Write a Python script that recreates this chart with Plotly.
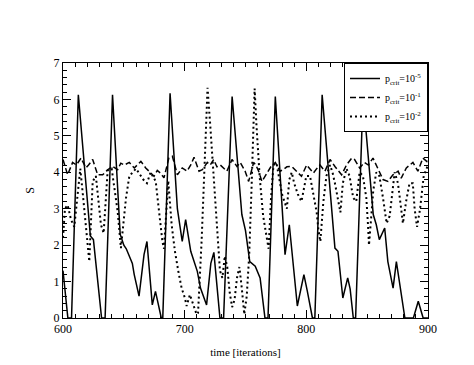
import plotly.graph_objects as go

# ---- data ----
t_solid = [600, 604, 607, 612.6, 622.5, 625, 631.7, 634.6, 640.7, 647, 650, 652, 657, 658.5, 662.5,
           666.6, 669, 673.4, 676, 680.8, 682, 688, 694, 698, 700.8, 705, 710.4, 713, 718, 721.5,
           724, 726.5, 729, 732, 739, 747, 750, 753.5, 758, 762, 766, 768.5, 774.5, 782.5, 786,
           792.6, 798, 800.8, 805, 807, 813, 823.5, 826, 830, 834, 836, 838.6, 840.5, 846.6, 855,
           857.5, 860, 864.4, 867, 871.3, 874, 878, 881, 888, 892, 896, 900]
s_solid = [1.3, 0, 0, 6.13, 2.25, 2.15, 0, 0, 6.13, 2.3, 2.0, 1.9, 1.5, 1.2, 0.6,
           1.74, 2.1, 0.36, 0.73, 0, 0, 6.17, 3.0, 2.1, 2.7, 1.83, 1.28, 0.82, 0.36, 1.5,
           1.8, 0.9, 0, 0, 6.08, 2.84, 2.4, 1.55, 1.42, 1.1, 0, 0, 6.08, 1.74, 2.56,
           0.33, 1.19, 0.74, 0, 0, 6.13, 1.92, 1.83, 0.55, 1.1, 0.8, 0, 0, 6.08, 2.84,
           2.56, 2.15, 2.47, 1.55, 0.82, 1.55, 0.73, 0, 0, 0.46, 0, 0]

t_dash = [600, 603.8, 607.9, 611, 614.8, 618.9, 621, 624.4, 628.5, 632.6, 636.7, 640.8, 644.9, 647.5,
          650.4, 654.5, 658.6, 664, 668, 670.7, 674.8, 677.5, 680, 683, 687, 689.9, 694, 698, 702,
          705, 707.7, 711.8, 714.5, 718.6, 721, 723.8, 726.5, 729.3, 732, 734.7, 738.9, 743, 745.7,
          749.7, 752.6, 756.7, 758.5, 760.8, 763.5, 767.7, 771, 774.5, 778.4, 781, 784, 788, 792,
          796, 800.3, 803, 805.8, 808.5, 811.2, 815.3, 819.5, 823.5, 826, 829, 833, 837.3, 839.7,
          843.8, 847.9, 851, 854.8, 858, 863, 867.1, 871.2, 875.4, 878, 882.2, 885, 887.6, 891.7,
          895.8, 899, 900]
s_dash = [4.35, 3.93, 4.27, 4.2, 4.39, 4.12, 4.2, 4.35, 3.93, 3.93, 4.07, 4.16, 4.07, 4.25,
          4.2, 4.27, 4.12, 4.3, 4.12, 4.03, 3.89, 4.05, 3.98, 3.85, 4.39, 4.44, 3.93, 4.12, 4.03,
          4.2, 4.41, 4.03, 4.07, 4.27, 4.2, 4.35, 4.15, 4.2, 4.1, 4.03, 4.35, 4.16, 4.27,
          4.03, 3.75, 4.27, 4.2, 4.03, 3.75, 3.98, 4.16, 4.27, 4.03, 4.07, 4.15, 4.16, 4.03,
          3.89, 4.2, 4.1, 3.98, 4.1, 4.2, 4.03, 4.35, 4.16, 4.05, 3.93, 4.2, 4.39, 4.35,
          4.12, 4.27, 4.2, 4.39, 4.16, 3.8, 3.75, 3.93, 4.03, 3.84, 4.12, 4.2, 4.27, 4.03,
          4.39, 4.3, 4.4]

t_dot = [600, 601.6, 603.8, 606.6, 609.3, 612, 614.2, 616, 618.9, 621.6, 624.4, 627, 631.2, 633.4,
         636.7, 640, 644.9, 647.6, 651.8, 654.5, 657.2, 660, 663, 666, 669, 672, 676.2, 679, 681.7,
         683, 686.5, 689.3, 692, 694.8, 697.5, 700.2, 701.6, 704.3, 707, 709.8, 711, 713.9, 716.6,
         718.8, 721, 723.8, 726.6, 729, 731, 733, 735, 737, 739, 741, 743, 745, 747, 749, 751, 753,
         755, 757.5, 759, 761.6, 764.5, 767.7, 769, 771, 773, 775.5, 778, 780, 782, 784, 786, 788,
         790, 793, 796, 798, 800, 803, 806, 808.5, 810, 811.5, 814, 816.5, 819.5, 821.5, 823.5,
         826, 828, 830, 833, 835.5, 838.5, 841, 843.8, 846.5, 849.3, 850.6, 851.5, 853.4, 855,
         857.5, 860, 863, 866, 868.5, 871.3, 872.6, 875.3, 878, 879.4, 882, 884.8, 887.5, 889,
         891, 893.5, 896.5, 899, 900]
s_dot = [2.2, 3.0, 3.1, 2.7, 2.5, 3.3, 4.1, 3.5, 2.56, 1.55, 3.75, 3.9, 2.56, 2.33,
         4.05, 4.1, 2.93, 1.92, 3.3, 3.89, 4.0, 4.1, 3.95, 3.8, 3.7, 4.0, 3.75, 2.85, 2.1,
         1.9, 3.77, 2.56, 1.83, 1.28, 0.82, 0.55, 0.33, 0.64, 0.37, 0.1, 0.14, 2.1, 4.4,
         6.32, 5.3, 3.93, 2.56, 1.3, 1.1, 1.7, 1.4, 0.7, 0.3, 0.5, 1.1, 1.4, 0.8, 0.1, 0.6, 1.7,
         3.6, 6.3, 5.3, 3.9, 2.8, 2.2, 1.9, 3.3, 4.2, 4.25, 3.8, 3.4, 3.2, 3.0, 3.8, 4.0,
         3.7, 3.4, 3.2, 3.6, 3.9, 3.9, 3.4, 2.9, 2.4, 2.1, 3.2, 3.9, 4.2, 4.0, 3.7,
         3.2, 2.9, 3.7, 4.1, 3.9, 3.3, 3.2, 4.0, 3.9, 3.3, 2.6, 2.0, 2.8, 3.5,
         4.0, 3.9, 3.3, 2.6, 2.8, 3.6, 4.0, 3.7, 3.0, 2.6, 3.2, 3.7, 3.7, 3.0,
         2.5, 3.0, 3.9, 4.1, 4.2]

names = ["p<sub>crit</sub>=10<sup>-5</sup>",
         "p<sub>crit</sub>=10<sup>-1</sup>",
         "p<sub>crit</sub>=10<sup>-2</sup>"]

FONT = "Liberation Serif"

fig = go.Figure()
fig.add_trace(go.Scatter(x=t_solid, y=s_solid, mode="lines", name=names[0],
                         line=dict(color="black", width=1.5, dash="solid")))
fig.add_trace(go.Scatter(x=t_dash, y=s_dash, mode="lines", name=names[1],
                         line=dict(color="black", width=1.5, dash="6px,3px")))
fig.add_trace(go.Scatter(x=t_dot, y=s_dot, mode="lines", name=names[2],
                         line=dict(color="black", width=2, dash="2px,3px")))

axis_common = dict(showline=True, linecolor="black", linewidth=1, mirror="allticks",
                   ticks="inside", ticklen=8, tickcolor="black", tickwidth=1,
                   showgrid=False, zeroline=False,
                   tickfont=dict(family=FONT, size=12, color="black"))

fig.update_xaxes(range=[600, 900], dtick=100, tick0=600,
                 minor=dict(dtick=10, ticks="inside", ticklen=4, tickcolor="black"),
                 title=dict(text="time [iterations]", font=dict(family=FONT, size=11, color="black"),
                            standoff=12),
                 **axis_common)
fig.update_yaxes(range=[0, 7], dtick=1, tick0=0,
                 minor=dict(dtick=0.2, ticks="inside", ticklen=4, tickcolor="black"),
                 title=dict(text="S", font=dict(family=FONT, size=12, color="black"), standoff=16),
                 **axis_common)

fig.update_layout(
    width=474, height=365,
    margin=dict(l=55, r=54, t=55, b=55),
    paper_bgcolor="white", plot_bgcolor="white",
    font=dict(family=FONT, color="black"),
    legend=dict(x=1, y=1, xanchor="right", yanchor="top",
                bordercolor="black", borderwidth=1, bgcolor="white",
                font=dict(family=FONT, size=10, color="black"),
                itemwidth=30, tracegroupgap=0),
)

fig.write_html("out.html")
